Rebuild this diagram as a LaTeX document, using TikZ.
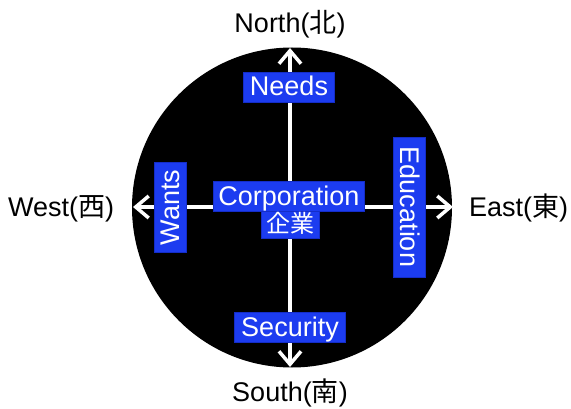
\documentclass[tikz,border=0pt]{standalone}
\usepackage{fontspec}
\setmainfont{Liberation Sans}
\newfontfamily\cjk{Noto Sans CJK JP}
\usetikzlibrary{arrows.meta}
\definecolor{boxblue}{RGB}{28,60,240}
\definecolor{boxedge}{RGB}{20,45,200}
\tikzset{
  lbl/.style={anchor=base, inner sep=0pt, font=\fontsize{27}{30}\selectfont},
  tag/.style={fill=boxblue, draw=boxedge, line width=0.6pt, text=white,
    inner xsep=6.5pt, inner ysep=1pt, text height=23pt, text depth=5pt,
    font=\fontsize{27}{30}\selectfont},
  axis/.style={draw=white, line width=4pt,
    arrows={Straight Barb[length=13pt,width=22pt,line width=3.5pt]-Straight Barb[length=13pt,width=22pt,line width=3.5pt]}}
}
\begin{document}
\begin{tikzpicture}[x=1pt,y=-1pt]
\useasboundingbox (0,0) rectangle (571,409);
\node[circle, fill=black, inner sep=0pt, minimum size=320pt] (disc) at (292,207.5) {};
\coordinate (ntip) at (290,48);
\coordinate (stip) at (290,367);
\coordinate (wtip) at (133,207);
\coordinate (etip) at (453,207);
\draw[axis] (stip) -- (ntip);
\draw[axis] (wtip) -- (etip);
\node[tag] (needs) at (289,87) {Needs};
\node[tag] (security) at (290,327) {Security};
\node[tag, rotate=90, inner xsep=7.5pt, inner ysep=2pt] (wants) at (170,207.5) {Wants};
\node[tag, rotate=-90, inner xsep=10pt, inner ysep=2pt] (education) at (409,207) {Education};
\node[tag, inner xsep=5pt] (corp) at (289,196.5) {Corporation};
\node[tag, inner xsep=5pt, text height=20pt, text depth=4pt, inner ysep=1.5pt, font=\fontsize{24}{26}\selectfont\cjk] (kigyo) at (290,225) {企業};
\node[lbl] (north) at (290,33) {North({\cjk 北})};
\node[lbl] (south) at (290,401) {South({\cjk 南})};
\node[lbl, anchor=base west] (west) at (8,217) {West({\cjk 西})};
\node[lbl, anchor=base west] (east) at (469,217) {East({\cjk 東})};
\end{tikzpicture}
\end{document}
